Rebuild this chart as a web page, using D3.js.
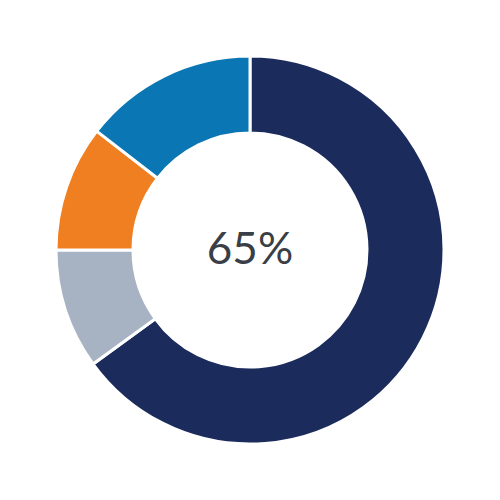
<!DOCTYPE html>
<html><head><meta charset="utf-8">
<script src="https://cdn.jsdelivr.net/npm/d3@7"></script>
<style>html,body{margin:0;padding:0;background:#fff;}</style>
</head><body>
<svg id="chart" width="500" height="500"></svg>
<script>
const categories = ["A", "B", "C", "D"];
const values = [65, 10, 10.5, 14.5];
const colors = ["#1b2b5b", "#a7b3c2", "#f07f22", "#0a76b3"];
const centerLabel = "65%";

const svg = d3.select("#chart");
const g = svg.append("g").attr("transform", "translate(250,250)");
const pie = d3.pie().sort(null).value(d => d.v);
const arc = d3.arc().innerRadius(117).outerRadius(194);
const data = categories.map((c, i) => ({c, v: values[i], col: colors[i]}));
g.selectAll("path").data(pie(data)).join("path")
  .attr("d", arc)
  .attr("fill", d => d.data.col)
  .attr("stroke", "#fff")
  .attr("stroke-width", 3);
g.append("text").text(centerLabel)
  .attr("text-anchor", "middle")
  .attr("y", 14)
  .attr("font-family", "Lato")
  .attr("font-weight", 400)
  .attr("font-size", 44)
  .attr("fill", "#3a3f47");
</script>
</body></html>
